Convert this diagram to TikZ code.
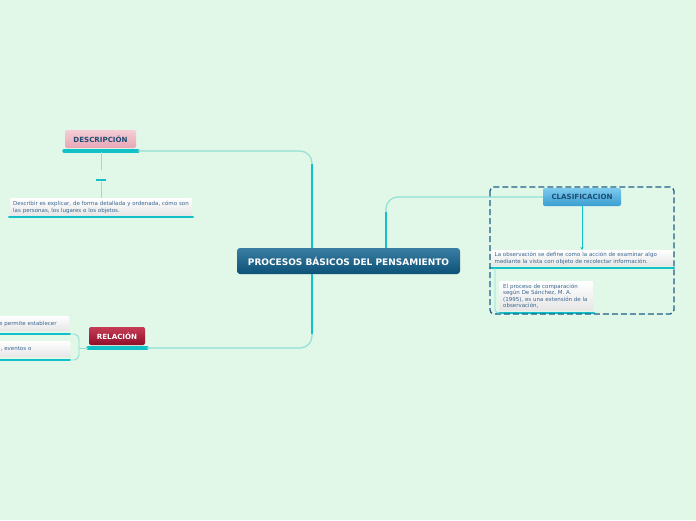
\documentclass[tikz,border=0pt]{standalone}
\usepackage{fontspec}
\setmainfont{DejaVu Sans}
\usetikzlibrary{arrows.meta}
\definecolor{bg}{HTML}{E1F7E7}
\definecolor{cenA}{HTML}{3A7EA3}
\definecolor{cenB}{HTML}{0C5177}
\definecolor{pinkA}{HTML}{F6CDD6}
\definecolor{pinkB}{HTML}{E6A6B5}
\definecolor{redA}{HTML}{C63C55}
\definecolor{redB}{HTML}{900E2A}
\definecolor{blueA}{HTML}{7CCBEE}
\definecolor{blueB}{HTML}{3A9DD1}
\definecolor{darkT}{HTML}{1F4C72}
\definecolor{noteT}{HTML}{3A6590}
\definecolor{tealc}{HTML}{12C0C8}
\definecolor{linkc}{HTML}{8FE0D6}
\definecolor{dashc}{HTML}{1F6088}
\begin{document}
\begin{tikzpicture}[x=1pt,y=-1pt,
  central/.style={rounded corners=3pt, top color=cenA, bottom color=cenB, draw=none,
    minimum width=223pt, minimum height=26pt, inner sep=0pt, text=white,
    font=\fontsize{9}{11}\selectfont\bfseries},
  topic/.style={rounded corners=2pt, draw=none, minimum height=18pt, inner sep=0pt,
    font=\fontsize{7.1}{8}\selectfont\bfseries},
  note/.style={top color=white, bottom color=black!10, draw=none, text=noteT,
    font=\fontsize{5.5}{6.6}\selectfont, align=left, anchor=north west,
    inner xsep=3pt, inner ysep=2pt, rounded corners=1pt},
  bar/.style={draw=tealc, line width=3.5pt, line cap=round},
  thinbar/.style={draw=tealc, line width=2pt, line cap=round},
  link/.style={draw=linkc, line width=1.2pt},
  trunk/.style={draw=tealc, line width=2.5pt},
]
\fill[bg] (0,0) rectangle (696,520);
\clip (0,0) rectangle (696,520);

% central
\node[central] (cen) at (348.5,261) {PROCESOS BÁSICOS DEL PENSAMIENTO};

% topics
\node[topic, top color=pinkA, bottom color=pinkB, text=darkT, minimum width=71pt] (desc) at (100.5,139) {DESCRIPCIÓN};
\node[topic, top color=redA, bottom color=redB, text=white, minimum width=56pt] (rel) at (117,336) {RELACIÓN};
\node[topic, top color=blueA, bottom color=blueB, text=darkT, minimum width=78pt] (clas) at (582,197) {CLASIFICACION};

% underline bars
\coordinate (dbL) at (64,151); \coordinate (dbR) at (138,151);
\coordinate (rbL) at (88,348); \coordinate (rbR) at (147,348);
\draw[bar] (dbL) -- (dbR);
\draw[bar] (rbL) -- (rbR);

% notes
\node[note, minimum width=182pt, minimum height=18pt, text width=176pt] (dnote) at (10,198)
 {Describir es explicar, de forma detallada y ordenada, cómo son\\las personas, los lugares o los objetos.};
\coordinate (dnL) at (9,217); \coordinate (dnR) at (193,217);
\draw[thinbar] (dnL) -- (dnR);

\node[note, minimum width=73pt, minimum height=15pt, text width=67pt] (r1) at (-4,316) {e permite establecer};
\node[note, minimum width=73pt, minimum height=16pt, text width=67pt] (r2) at (-2.5,341) {, eventos o};
\coordinate (r1L) at (-5,334); \coordinate (r1R) at (70,334);
\coordinate (r2L) at (-5,360); \coordinate (r2R) at (70,360);
\draw[thinbar] (r1L) -- (r1R);
\draw[thinbar] (r2L) -- (r2R);

\node[note, minimum width=182pt, minimum height=16pt, text width=175pt, inner xsep=3.5pt, inner ysep=1.5pt] (obs) at (491,250)
 {La observación se define como la acción de examinar algo\\mediante la vista con objeto de recolectar información.};
\coordinate (obL) at (490,268); \coordinate (obR) at (674,268);
\draw[thinbar] (obL) -- (obR);

\node[note, minimum width=94pt, minimum height=30pt, text width=86pt, inner xsep=4pt, inner ysep=2pt] (comp) at (499,281)
 {El proceso de comparación\\según De Sánchez, M. A.\\(1995), es una extensión de la\\observación,};
\coordinate (cbL) at (497,313); \coordinate (cbR) at (594,313);
\draw[thinbar] (cbL) -- (cbR);

% dashed boundary
\draw[dashc, line width=1.3pt, dash pattern=on 6pt off 3pt, rounded corners=4pt] (490,187) rectangle (674,314);

% connectors from the central topic
\coordinate (cT1) at ([xshift=-36.5pt]cen.north);
\coordinate (cB1) at ([xshift=-36.5pt]cen.south);
\coordinate (cT2) at ([xshift=37.5pt]cen.north);
\draw[link, rounded corners=12pt] (cT1) |- (dbR);
\draw[trunk] (cT1) -- ++(0,-84);
\draw[link, rounded corners=12pt] (cB1) |- (rbR);
\draw[trunk] (cB1) -- ++(0,60);
\draw[link, rounded corners=12pt] (cT2) |- (clas.west);
\draw[trunk] (cT2) -- ++(0,-36);

% descripcion -> note (collapsed marker)
\coordinate (dm1) at (101,152); \coordinate (dm2) at (101,170);
\coordinate (dk1) at (96,180); \coordinate (dk2) at (106,180);
\coordinate (dm3) at (101,182);
\draw[link, line width=0.9pt] (dm1) -- (dm2);
\draw[draw=tealc, line width=2pt] (dk1) -- (dk2);
\draw[link, line width=0.9pt] (dm3) -- (dnote.north -| dm3);

% relacion -> bracket
\coordinate (brX) at (79,348);
\draw[link, line width=0.9pt, rounded corners=5pt] (r1R) -| (brX) |- (r2R);
\draw[link, line width=0.9pt] (brX) -- (rbL);

% clasificacion -> observacion
\draw[draw=tealc, line width=1pt, -{Stealth[length=3pt,width=3pt]}] (clas.south) -- (clas.south |- obs.north);

% observacion -> comparacion
\coordinate (oc1) at (495,268);
\draw[link, line width=0.9pt, rounded corners=4pt] (oc1) |- (cbL);
\end{tikzpicture}
\end{document}
